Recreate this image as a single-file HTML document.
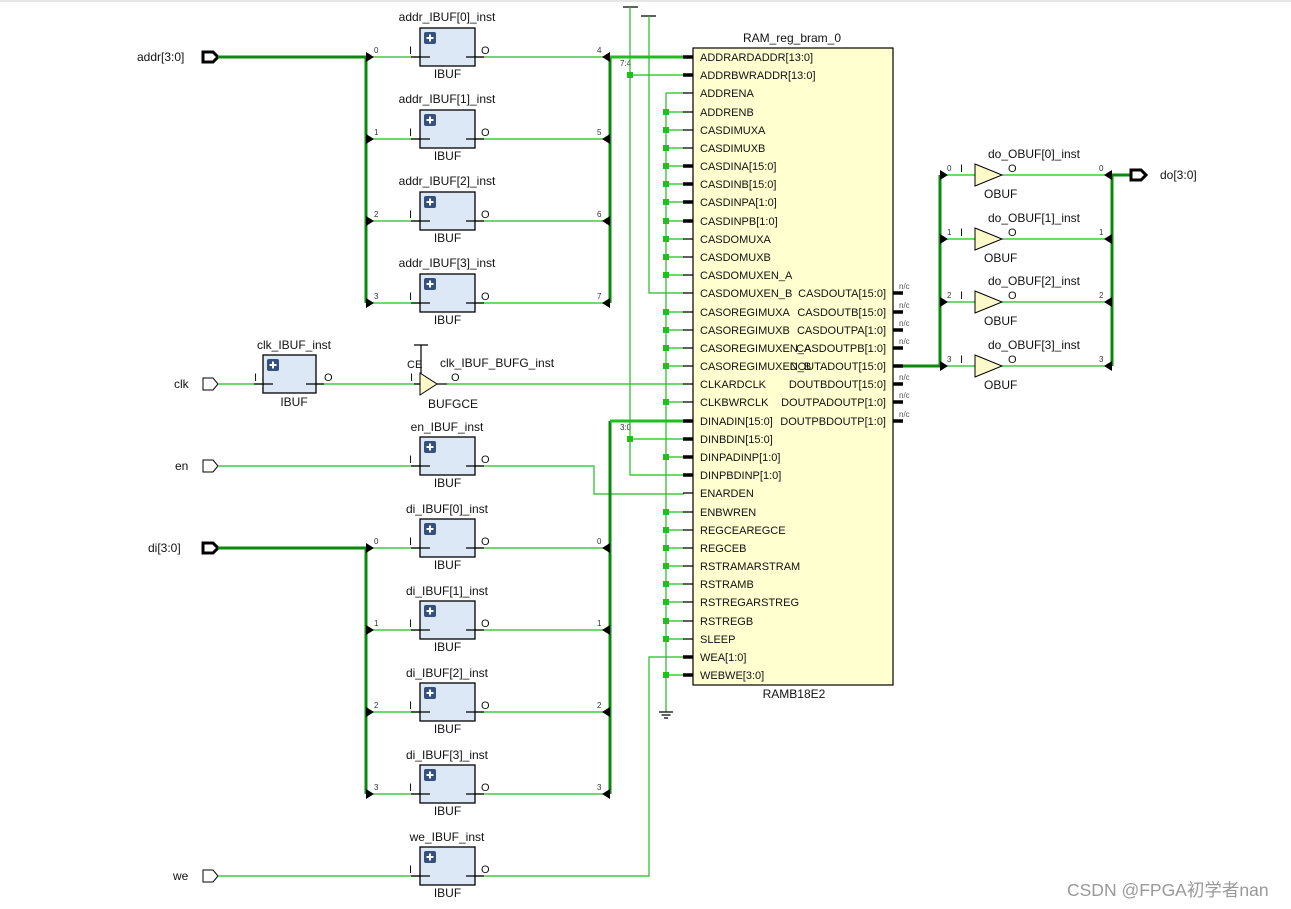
<!DOCTYPE html>
<html><head><meta charset="utf-8"><style>
html,body{margin:0;padding:0;background:#fff;}
svg{display:block;font-family:"Liberation Sans",Arial,sans-serif;}
.t{font-size:11px;fill:#111;}
.l{font-size:12px;fill:#111;}
.s{font-size:8px;fill:#333;}
.nc{font-size:8px;fill:#555;}
.g{stroke:#1fbf1f;stroke-width:1.2;fill:none;}
.b{stroke:#0a8a0a;stroke-width:3;fill:none;}
.bb{stroke:#1fbf1f;stroke-width:3;fill:none;}
.k{stroke:#000;stroke-width:1.2;fill:none;}
.kb{stroke:#000;stroke-width:3.5;fill:none;}
.box{fill:#dde8f7;stroke:#000;stroke-width:1.3;}
.pl{fill:#34507f;}
.tri{fill:#fdf9c8;stroke:#000;stroke-width:1;}
.sq{fill:#1fbf1f;}
</style></head><body>
<svg width="1291" height="909" viewBox="0 0 1291 909" xmlns="http://www.w3.org/2000/svg">
<rect x="0" y="0" width="1291" height="2" fill="#e6e6e6"/>

<defs>
<g id="ibuf">
 <rect class="box" x="420" y="0" width="55" height="38"/>
 <rect class="pl" x="424" y="4" width="12" height="12" rx="2"/>
 <path d="M430 6.5v7M426.5 10h7" stroke="#fff" stroke-width="2"/>
 <path class="k" d="M411 29h19M466 29h18"/>
 <text class="t" x="409" y="26">I</text>
 <text class="t" x="481" y="26">O</text>
 <text class="l" x="447.5" y="50" text-anchor="middle">IBUF</text>
</g>
<g id="obuf">
 <path class="tri" d="M975 -11L1002 0L975 11Z"/>
 <text class="t" x="960" y="-3">I</text>
 <text class="t" x="1008" y="-3">O</text>
 <text class="l" x="984" y="23">OBUF</text>
</g>
<path id="arR" d="M0 -5L8 0L0 5Z" fill="#000"/>
<path id="arL" d="M0 -5L-8 0L0 5Z" fill="#000"/>
</defs>

<path d="M203 52h10l5 5l-5 5h-10z" fill="#fff" stroke="#000" stroke-width="3"/>
<text class="l" x="137" y="61">addr[3:0]</text>
<path class="b" d="M218 57H366M366 57V303"/>
<path class="b" d="M610 57V303"/>
<path class="bb" d="M610 57H684"/>
<text class="s" x="620" y="66">7:4</text>

<g>
<path class="g" d="M366 57H420M475 57H610"/>
<use href="#ibuf" y="28"/>
<text class="l" x="447" y="21" text-anchor="middle">addr_IBUF[0]_inst</text>
<use href="#arR" x="366" y="57"/><use href="#arL" x="610" y="57"/>
<text class="s" x="374" y="53">0</text><text class="s" x="597" y="53">4</text>

<path class="g" d="M366 139H420M475 139H610"/>
<use href="#ibuf" y="110"/>
<text class="l" x="447" y="103" text-anchor="middle">addr_IBUF[1]_inst</text>
<use href="#arR" x="366" y="139"/><use href="#arL" x="610" y="139"/>
<text class="s" x="374" y="135">1</text><text class="s" x="597" y="135">5</text>

<path class="g" d="M366 221H420M475 221H610"/>
<use href="#ibuf" y="192"/>
<text class="l" x="447" y="185" text-anchor="middle">addr_IBUF[2]_inst</text>
<use href="#arR" x="366" y="221"/><use href="#arL" x="610" y="221"/>
<text class="s" x="374" y="217">2</text><text class="s" x="597" y="217">6</text>

<path class="g" d="M366 303H420M475 303H610"/>
<use href="#ibuf" y="274"/>
<text class="l" x="447" y="267" text-anchor="middle">addr_IBUF[3]_inst</text>
<use href="#arR" x="366" y="303"/><use href="#arL" x="610" y="303"/>
<text class="s" x="374" y="299">3</text><text class="s" x="597" y="299">7</text>
</g>

<path d="M203 378h10l5 6l-5 6h-10z" fill="#fff" stroke="#000" stroke-width="1"/>
<text class="l" x="174" y="388">clk</text>
<path class="g" d="M218 384H263M316 384H420M447 384H684"/>
<rect class="box" x="263" y="355" width="53" height="38"/>
<rect class="pl" x="267" y="359" width="12" height="12" rx="2"/>
<path d="M273 361.5v7M269.5 365h7" stroke="#fff" stroke-width="2"/>
<path class="k" d="M254 384h19M306 384h18"/>
<text class="t" x="254" y="381">I</text><text class="t" x="324" y="381">O</text>
<text class="l" x="294" y="349" text-anchor="middle">clk_IBUF_inst</text>
<text class="l" x="294" y="406" text-anchor="middle">IBUF</text>
<path class="k" d="M414 384h6M437 384h10M421 345V375M414 345h14"/>
<path class="tri" d="M420 373L437 384L420 395Z"/>
<text class="t" x="407" y="368">CE</text>
<text class="t" x="410" y="381">I</text><text class="t" x="451" y="381">O</text>
<text class="l" x="440" y="367">clk_IBUF_BUFG_inst</text>
<text class="l" x="428" y="408">BUFGCE</text>

<path d="M203 460h10l5 6l-5 6h-10z" fill="#fff" stroke="#000" stroke-width="1"/>
<text class="l" x="175" y="470">en</text>
<path class="g" d="M218 466H420M475 466H594V494H684"/>
<use href="#ibuf" y="437"/>
<text class="l" x="447" y="431" text-anchor="middle">en_IBUF_inst</text>

<path d="M203 543h10l5 5l-5 5h-10z" fill="#fff" stroke="#000" stroke-width="3"/>
<text class="l" x="148" y="552">di[3:0]</text>
<path class="b" d="M218 548H366M366 548V794"/>
<path class="b" d="M610 421V794"/>
<path class="bb" d="M610 421H684"/>
<text class="s" x="620" y="430">3:0</text>
<g>
<path class="g" d="M366 548H420M475 548H610"/>
<use href="#ibuf" y="519"/>
<text class="l" x="447" y="513" text-anchor="middle">di_IBUF[0]_inst</text>
<use href="#arR" x="366" y="548"/><use href="#arL" x="610" y="548"/>
<text class="s" x="374" y="544">0</text><text class="s" x="597" y="544">0</text>

<path class="g" d="M366 630H420M475 630H610"/>
<use href="#ibuf" y="601"/>
<text class="l" x="447" y="595" text-anchor="middle">di_IBUF[1]_inst</text>
<use href="#arR" x="366" y="630"/><use href="#arL" x="610" y="630"/>
<text class="s" x="374" y="626">1</text><text class="s" x="597" y="626">1</text>

<path class="g" d="M366 712H420M475 712H610"/>
<use href="#ibuf" y="683"/>
<text class="l" x="447" y="677" text-anchor="middle">di_IBUF[2]_inst</text>
<use href="#arR" x="366" y="712"/><use href="#arL" x="610" y="712"/>
<text class="s" x="374" y="708">2</text><text class="s" x="597" y="708">2</text>

<path class="g" d="M366 794H420M475 794H610"/>
<use href="#ibuf" y="765"/>
<text class="l" x="447" y="759" text-anchor="middle">di_IBUF[3]_inst</text>
<use href="#arR" x="366" y="794"/><use href="#arL" x="610" y="794"/>
<text class="s" x="374" y="790">3</text><text class="s" x="597" y="790">3</text>
</g>

<path d="M203 870h10l5 6l-5 6h-10z" fill="#fff" stroke="#000" stroke-width="1"/>
<text class="l" x="173" y="880">we</text>
<path class="g" d="M218 876H420M475 876H649V657H684"/>
<use href="#ibuf" y="847"/>
<text class="l" x="447" y="841" text-anchor="middle">we_IBUF_inst</text>

<path class="k" d="M623 7h15M641 16h15"/>
<path class="g" d="M630 7V475H684M630 75H684M630 439H684"/>
<rect class="sq" x="627" y="72" width="6" height="6"/><rect class="sq" x="627" y="436" width="6" height="6"/>
<path class="g" d="M649 16V293H684"/>
<path class="g" d="M666 93H684M666 93V712"/>
<path class="k" d="M659 712h14M661.5 715h9M664 718h4"/>
<g class="g">
<path d="M666 112H684M666 130H684M666 148H684M666 166H684M666 184H684M666 202H684M666 221H684M666 239H684M666 257H684M666 275H684M666 312H684M666 330H684M666 348H684M666 366H684M666 402H684M666 457H684M666 512H684M666 530H684M666 548H684M666 566H684M666 584H684M666 602H684M666 621H684M666 639H684M666 675H684"/>
</g>
<g class="sq">
<rect x="663" y="109" width="6" height="6"/><rect x="663" y="127" width="6" height="6"/><rect x="663" y="145" width="6" height="6"/><rect x="663" y="163" width="6" height="6"/><rect x="663" y="181" width="6" height="6"/><rect x="663" y="199" width="6" height="6"/><rect x="663" y="218" width="6" height="6"/><rect x="663" y="236" width="6" height="6"/><rect x="663" y="254" width="6" height="6"/><rect x="663" y="272" width="6" height="6"/><rect x="663" y="309" width="6" height="6"/><rect x="663" y="327" width="6" height="6"/><rect x="663" y="345" width="6" height="6"/><rect x="663" y="363" width="6" height="6"/><rect x="663" y="399" width="6" height="6"/><rect x="663" y="454" width="6" height="6"/><rect x="663" y="509" width="6" height="6"/><rect x="663" y="527" width="6" height="6"/><rect x="663" y="545" width="6" height="6"/><rect x="663" y="563" width="6" height="6"/><rect x="663" y="581" width="6" height="6"/><rect x="663" y="599" width="6" height="6"/><rect x="663" y="618" width="6" height="6"/><rect x="663" y="636" width="6" height="6"/><rect x="663" y="672" width="6" height="6"/>
</g>

<rect x="693" y="48" width="200" height="637" fill="#ffffd0" stroke="#000" stroke-width="1.2"/>
<text class="l" x="792" y="42" text-anchor="middle">RAM_reg_bram_0</text>
<text class="l" x="794" y="698" text-anchor="middle">RAMB18E2</text>
<path class="k" d="M683 93H693M683 112H693M683 130H693M683 148H693M683 239H693M683 257H693M683 275H693M683 293H693M683 312H693M683 330H693M683 348H693M683 366H693M683 384H693M683 402H693M683 493H693M683 512H693M683 530H693M683 548H693M683 566H693M683 584H693M683 602H693M683 621H693M683 639H693"/>
<path class="kb" d="M683 57H693M683 75H693M683 166H693M683 184H693M683 202H693M683 221H693M683 421H693M683 439H693M683 457H693M683 475H693M683 657H693M683 675H693"/>
<g class="t">
<text x="700" y="61">ADDRARDADDR[13:0]</text>
<text x="700" y="79">ADDRBWRADDR[13:0]</text>
<text x="700" y="97">ADDRENA</text>
<text x="700" y="116">ADDRENB</text>
<text x="700" y="134">CASDIMUXA</text>
<text x="700" y="152">CASDIMUXB</text>
<text x="700" y="170">CASDINA[15:0]</text>
<text x="700" y="188">CASDINB[15:0]</text>
<text x="700" y="206">CASDINPA[1:0]</text>
<text x="700" y="225">CASDINPB[1:0]</text>
<text x="700" y="243">CASDOMUXA</text>
<text x="700" y="261">CASDOMUXB</text>
<text x="700" y="279">CASDOMUXEN_A</text>
<text x="700" y="297">CASDOMUXEN_B</text>
<text x="700" y="316">CASOREGIMUXA</text>
<text x="700" y="334">CASOREGIMUXB</text>
<text x="700" y="352">CASOREGIMUXEN_A</text>
<text x="700" y="370">CASOREGIMUXEN_B</text>
<text x="700" y="388">CLKARDCLK</text>
<text x="700" y="406">CLKBWRCLK</text>
<text x="700" y="425">DINADIN[15:0]</text>
<text x="700" y="443">DINBDIN[15:0]</text>
<text x="700" y="461">DINPADINP[1:0]</text>
<text x="700" y="479">DINPBDINP[1:0]</text>
<text x="700" y="497">ENARDEN</text>
<text x="700" y="516">ENBWREN</text>
<text x="700" y="534">REGCEAREGCE</text>
<text x="700" y="552">REGCEB</text>
<text x="700" y="570">RSTRAMARSTRAM</text>
<text x="700" y="588">RSTRAMB</text>
<text x="700" y="606">RSTREGARSTREG</text>
<text x="700" y="625">RSTREGB</text>
<text x="700" y="643">SLEEP</text>
<text x="700" y="661">WEA[1:0]</text>
<text x="700" y="679">WEBWE[3:0]</text>
</g>
<g class="t" text-anchor="end">
<text x="886" y="297">CASDOUTA[15:0]</text>
<text x="886" y="316">CASDOUTB[15:0]</text>
<text x="886" y="334">CASDOUTPA[1:0]</text>
<text x="886" y="352">CASDOUTPB[1:0]</text>
<text x="886" y="370">DOUTADOUT[15:0]</text>
<text x="886" y="388">DOUTBDOUT[15:0]</text>
<text x="886" y="406">DOUTPADOUTP[1:0]</text>
<text x="886" y="425">DOUTPBDOUTP[1:0]</text>
</g>
<path class="kb" d="M893 293H903M893 312H903M893 330H903M893 348H903M893 366H903M893 384H903M893 402H903M893 421H903"/>
<g class="nc">
<text x="899" y="289">n/c</text><text x="899" y="308">n/c</text><text x="899" y="326">n/c</text><text x="899" y="344">n/c</text>
<text x="899" y="380">n/c</text><text x="899" y="398">n/c</text><text x="899" y="417">n/c</text>
</g>

<path class="b" d="M903 366H940M940 175V366M1112 175V366M1112 175H1130"/>
<path d="M1131 170h10l5 5l-5 5h-10z" fill="#fff" stroke="#000" stroke-width="3"/>
<text class="l" x="1160" y="179">do[3:0]</text>
<g>
<path class="g" d="M940 175H975M1002 175H1112"/><use href="#obuf" y="175"/>
<text class="l" x="1034" y="158" text-anchor="middle">do_OBUF[0]_inst</text>
<use href="#arR" x="940" y="175"/><use href="#arL" x="1112" y="175"/>
<text class="s" x="947" y="171">0</text><text class="s" x="1099" y="171">0</text>

<path class="g" d="M940 239H975M1002 239H1112"/><use href="#obuf" y="239"/>
<text class="l" x="1034" y="222" text-anchor="middle">do_OBUF[1]_inst</text>
<use href="#arR" x="940" y="239"/><use href="#arL" x="1112" y="239"/>
<text class="s" x="947" y="235">1</text><text class="s" x="1099" y="235">1</text>

<path class="g" d="M940 302H975M1002 302H1112"/><use href="#obuf" y="302"/>
<text class="l" x="1034" y="285" text-anchor="middle">do_OBUF[2]_inst</text>
<use href="#arR" x="940" y="302"/><use href="#arL" x="1112" y="302"/>
<text class="s" x="947" y="298">2</text><text class="s" x="1099" y="298">2</text>

<path class="g" d="M940 366H975M1002 366H1112"/><use href="#obuf" y="366"/>
<text class="l" x="1034" y="349" text-anchor="middle">do_OBUF[3]_inst</text>
<use href="#arR" x="940" y="366"/><use href="#arL" x="1112" y="366"/>
<text class="s" x="947" y="362">3</text><text class="s" x="1099" y="362">3</text>
</g>

<text x="1067" y="896" font-size="17.5" fill="#999" style="font-family:'Liberation Sans','Noto Sans CJK SC',sans-serif">CSDN @FPGA初学者nan</text>
</svg>
</body></html>
